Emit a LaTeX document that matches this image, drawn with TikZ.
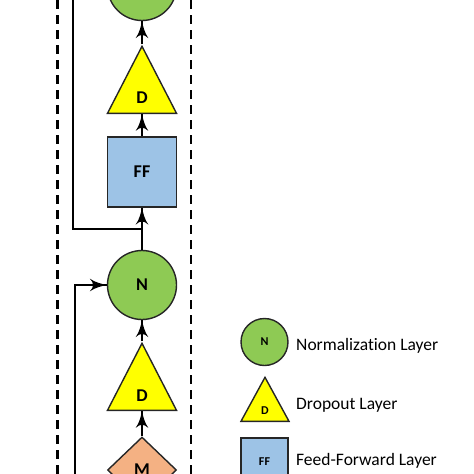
\documentclass[tikz,border=0pt]{standalone}
\usepackage{fontspec}
\setmainfont{Carlito}[Ligatures=NoCommon]
\usepackage{tikz}
\usetikzlibrary{arrows}
\usetikzlibrary{decorations.markings}
\usetikzlibrary{shapes.geometric}
\usetikzlibrary{calc}
\tikzset{->/.style = {decoration={markings,
                                  mark=at position 1 with {\arrow[scale=1.8]{latex'}}},
                      postaction={decorate}}}
\tikzset{wire/.style = {line width=2.2pt, black}}
\tikzset{border/.style = {dash pattern=on 9pt off 6pt, line width=2.6pt, black}}
\tikzset{normnode/.style = {circle, draw=black!85, line width=1.4pt, fill=lgreen,
                            minimum size=69pt, inner sep=0pt, font=\bfseries\fontsize{18}{18}\selectfont}}
\tikzset{dropnode/.style = {isosceles triangle, isosceles triangle stretches,
                            shape border rotate=90, draw=black!85, line width=1.4pt, fill=lyellow,
                            minimum width=69pt, minimum height=67pt, inner sep=0pt}}
\tikzset{ffnode/.style = {rectangle, draw=black!85, line width=1.4pt, fill=lblue,
                          minimum width=69pt, minimum height=70pt, inner sep=0pt,
                          font=\bfseries\fontsize{18}{18}\selectfont}}
\tikzset{mhanode/.style = {diamond, draw=black!85, line width=1.4pt, fill=lsalmon,
                           minimum width=69pt, minimum height=66pt, inner sep=0pt,
                           font=\bfseries\fontsize{18}{18}\selectfont}}
\tikzset{lbl/.style = {inner sep=0pt, font=\bfseries\fontsize{18}{18}\selectfont}}
\tikzset{keytext/.style = {anchor=west, inner sep=0pt, font=\fontsize{17.5}{18}\selectfont}}
\definecolor{lgreen}{RGB}{142, 202, 84}
\definecolor{lyellow}{RGB}{255, 255, 0}
\definecolor{lblue}{RGB}{157, 195, 230}
\definecolor{lsalmon}{RGB}{244, 177, 131}

\begin{document}
\begin{tikzpicture}[x=1pt, y=-1pt]
    \useasboundingbox (0, 0) rectangle (474, 474);
    \clip (0, 0) rectangle (474, 474);

    % block border
    \draw [border] (57.5, 0) -- (57.5, 474);
    \draw [border] (191, 0) -- (191, 474);

    % layers of the block
    \node [normnode] (N1) at (142, -14) {};
    \node [dropnode, anchor=lower side] (D1) at (142, 114) {};
    \node [lbl] (D1lbl) at (142, 98) {D};
    \node [ffnode] (FF) at (142, 172) {FF};
    \node [normnode] (N2) at (142, 285) {N};
    \node [dropnode, anchor=lower side] (D2) at (142, 411) {};
    \node [lbl] (D2lbl) at (142, 396) {D};
    \node [mhanode] (M) at (142, 470) {M};

    \draw [wire, ->] (D1.apex) -- (N1.south);
    \draw [wire, ->] (FF.north) -- (D1.lower side);
    \draw [wire, ->] (N2.north) -- (FF.south);
    \draw [wire, ->] (D2.apex) -- (N2.south);
    \draw [wire, ->] (M.north) -- (D2.lower side);

    % residual paths
    \coordinate (s1) at ($(FF.south)!0.5!(N2.north)$);
    \coordinate (t1) at (73, 0);
    \draw [wire] (s1) -| (t1);
    \coordinate (b2) at (75, 474);
    \draw [wire, ->] (b2) |- (N2.west);

    % key
    \node [normnode, minimum size=47pt, font=\bfseries\fontsize{12}{12}\selectfont] (kN) at (264.5, 342) {N};
    \node [keytext] (kNtext) at (296, 346) {Normalization Layer};
    \node [dropnode, anchor=lower side, minimum width=48pt, minimum height=44pt] (kD) at (265, 422) {};
    \node [lbl, font=\bfseries\fontsize{12}{12}\selectfont] (kDlbl) at (265, 411) {D};
    \node [keytext] (kDtext) at (296, 405) {Dropout Layer};
    \node [ffnode, minimum width=47pt, minimum height=48pt, font=\bfseries\fontsize{12}{12}\selectfont] (kF) at (264.5, 462) {FF};
    \node [keytext] (kFtext) at (296, 461) {Feed-Forward Layer};
\end{tikzpicture}
\end{document}
